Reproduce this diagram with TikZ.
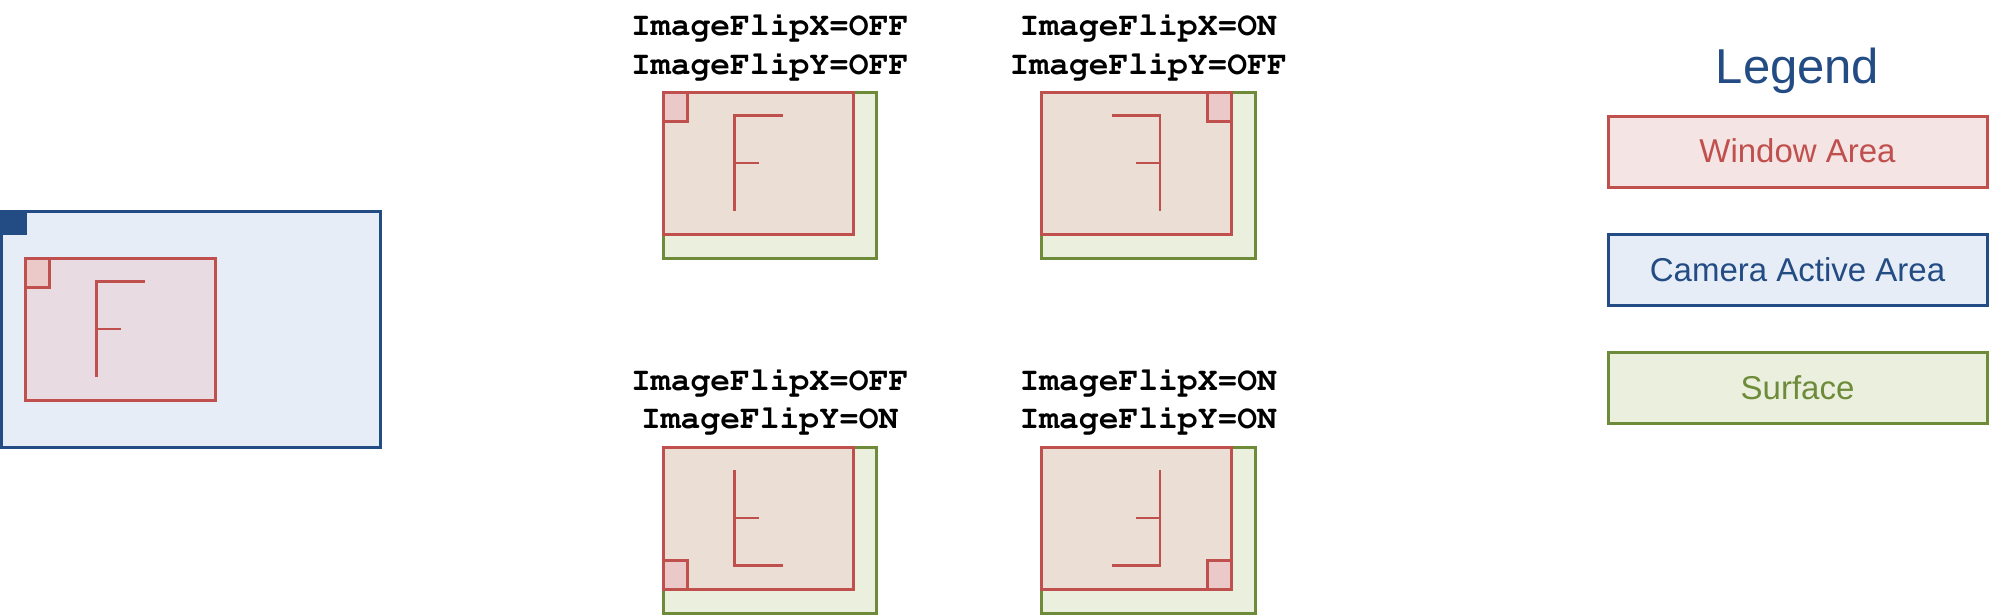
\documentclass[tikz,border=0pt]{standalone}
\usepackage[T1,TU]{fontenc}
\usepackage{fontspec}
\newfontfamily\sansf{Liberation Sans}
\newcommand\courbf{\fontencoding{T1}\fontfamily{pcr}\fontseries{b}\selectfont}
\definecolor{winred}{HTML}{C0504D}
\definecolor{winfill}{HTML}{EBDFD5}
\definecolor{winfillb}{HTML}{E8DCE2}
\definecolor{winfilll}{HTML}{F5E4E4}
\definecolor{cornfill}{HTML}{EBC9C9}
\definecolor{camblue}{HTML}{234C84}
\definecolor{camfill}{HTML}{E6EDF7}
\definecolor{surfgreen}{HTML}{6E8B3A}
\definecolor{surffill}{HTML}{EBF0DE}
\tikzset{
  surf/.style={draw=surfgreen, fill=surffill, line width=3pt},
  win/.style={draw=winred, line width=3pt},
  corner/.style={draw=winred, fill=cornfill, line width=3pt},
  fletter/.style={draw=winred, line width=2.8pt},
  cam/.style={draw=camblue, fill=camfill, line width=3pt},
  flabel/.style={font=\courbf\fontsize{33}{39}\selectfont, anchor=base, inner sep=0pt},
  legbox/.style={line width=3pt},
  legtext/.style={font=\sansf\fontsize{33}{38}\selectfont, anchor=base, inner sep=0pt},
}
% #1 x, #2 y (top-left of window), #3 xscale, #4 yscale, #5 window fill
\newcommand\mywindow[5]{%
  \draw[win, fill=#5] (#1,#2) rectangle ++(190,142);
  \begin{scope}[shift={(#1,#2)}, shift={(95,71)}, xscale=#3, yscale=#4]
    \draw[corner] (-95,-71) rectangle (-71,-42);
    \draw[fletter] (24.5,-47.5) -- (-23.5,-47.5) -- (-23.5,48);
    \draw[fletter] (-23.5,0) -- (1,0);
  \end{scope}}
\newcommand\mycell[4]{%
  \draw[surf] (#1,#2) rectangle ++(213.5,166);
  \mywindow{#1}{#2}{#3}{#4}{winfill}}
\begin{document}
\begin{tikzpicture}[x=1pt,y=-1pt]
\path[use as bounding box] (0,0) rectangle (1989,614);
% camera active area
\draw[cam] (1.5,211) rectangle (380,447);
\fill[camblue] (0,209.5) rectangle (27,235);
\mywindow{25}{258}{1}{1}{winfillb}
% four cases
\mycell{663}{92}{1}{1}
\mycell{1041.5}{92}{-1}{1}
\mycell{663}{447}{1}{-1}
\mycell{1041.5}{447}{-1}{-1}
\node[flabel] (l1a) at (769.75,35) {ImageFlipX=OFF};
\node[flabel] (l1b) at (769.75,74) {ImageFlipY=OFF};
\node[flabel] (l2a) at (1148.25,35) {ImageFlipX=ON};
\node[flabel] (l2b) at (1148.25,74) {ImageFlipY=OFF};
\node[flabel] (l3a) at (769.75,390) {ImageFlipX=OFF};
\node[flabel] (l3b) at (769.75,428.5) {ImageFlipY=ON};
\node[flabel] (l4a) at (1148.25,390) {ImageFlipX=ON};
\node[flabel] (l4b) at (1148.25,428.5) {ImageFlipY=ON};
% legend
\node[font=\sansf\fontsize{49}{55}\selectfont, text=camblue, anchor=base, inner sep=0pt] (legend) at (1797.5,83) {Legend};
\draw[legbox, draw=winred, fill=winfilll] (1608,116) rectangle (1987,187);
\node[legtext, text=winred] (lw) at (1797.5,162.5) {Window Area};
\draw[legbox, draw=camblue, fill=camfill] (1608,234) rectangle (1987,305);
\node[legtext, text=camblue] (lc) at (1797.5,281) {Camera Active Area};
\draw[legbox, draw=surfgreen, fill=surffill] (1608,352) rectangle (1987,423);
\node[legtext, text=surfgreen] (ls) at (1797.5,399) {Surface};
\end{tikzpicture}
\end{document}
